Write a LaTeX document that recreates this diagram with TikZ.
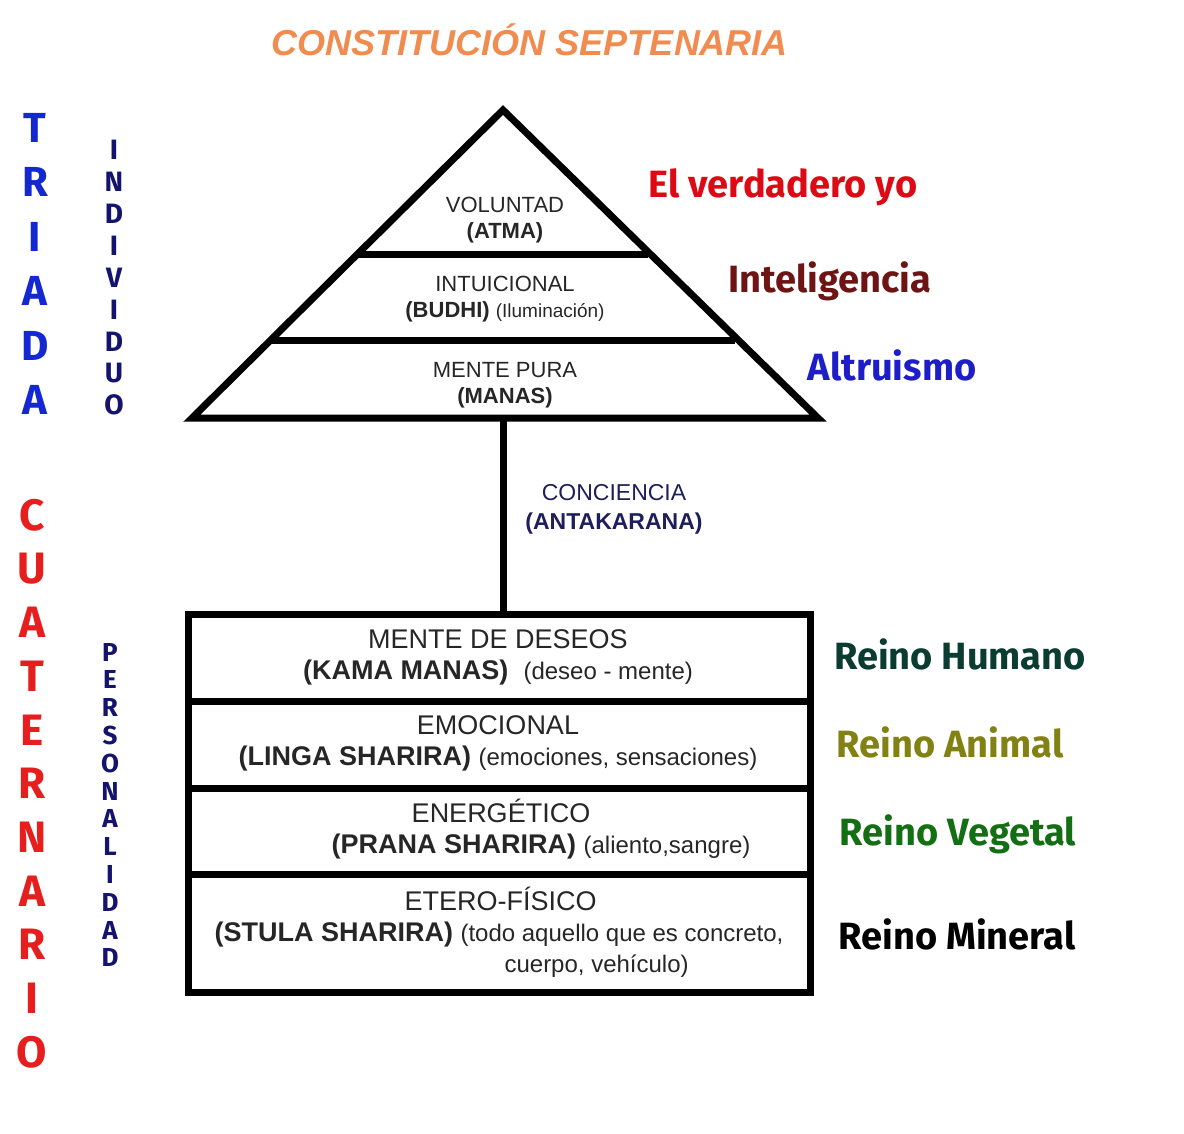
\documentclass[tikz,border=0pt]{standalone}
\usepackage{fontspec}
\setmainfont{Liberation Sans}
\newfontfamily\comic{Fira Sans}
\begin{document}
\begin{tikzpicture}[x=1pt,y=-1pt,
  thick8/.style={line width=7pt},
  inner/.style={font=\fontsize{27}{31}\selectfont, align=center, text=black!85},
  innersm/.style={font=\fontsize{22}{26}\selectfont, align=center, text=black!85},
  side/.style={font=\comic\bfseries\fontsize{38}{40}\selectfont},
  vl/.style={font=\comic\bfseries\fontsize{#1}{#1}\selectfont, inner sep=0pt}]
\useasboundingbox (0,0) rectangle (1184,1134);
\node[font=\itshape\bfseries\fontsize{36}{40}\selectfont, text={rgb,255:red,240;green,140;blue,80}] (title) at (530,40) {CONSTITUCIÓN SEPTENARIA};
% pyramid
\coordinate (apex) at (503,110);
\coordinate (bl) at (192,418);
\coordinate (br) at (818,418);
\draw[thick8, line join=miter] (apex) -- (br) -- (bl) -- cycle;
\draw[thick8] (358,255) -- (648,255);
\draw[thick8] (270,340) -- (735,340);
\node[innersm] (atma) at (505,220) {VOLUNTAD\\\textbf{(ATMA)}};
\node[innersm] (budhi) at (505,299) {INTUICIONAL\\\textbf{(BUDHI)} {\fontsize{19}{22}\selectfont(Iluminación)}};
\node[innersm] (manas) at (505,385) {MENTE PURA\\\textbf{(MANAS)}};
% stem
\coordinate (stemtop) at (503,418);
\coordinate (stembot) at (503,614);
\draw[thick8] (stemtop) -- (stembot);
\node[font=\fontsize{23}{27}\selectfont, align=center, text={rgb,255:red,30;green,30;blue,90}] (conc) at (614,509) {CONCIENCIA\\[2pt]\textbf{(ANTAKARANA)}};
% boxes
\draw[thick8] (188,614) rectangle (810,992);
\draw[thick8] (188,701) -- (810,701);
\draw[thick8] (188,788) -- (810,788);
\draw[thick8] (188,874) -- (810,874);
\node[inner] (kama) at (498,657) {MENTE DE DESEOS\\\textbf{(KAMA MANAS)}\ \ {\fontsize{24}{28}\selectfont(deseo - mente)}};
\node[inner] (linga) at (498,743) {EMOCIONAL\\\textbf{(LINGA SHARIRA)} {\fontsize{24}{28}\selectfont(emociones, sensaciones)}};
\node[inner] (prana) at (541,829) {\hspace*{-80pt}ENERGÉTICO\\\textbf{(PRANA SHARIRA)} {\fontsize{24}{28}\selectfont(aliento,sangre)}};
\node[inner, align=left] (stula) at (499,932) {\hspace*{190pt}ETERO-FÍSICO\\\textbf{(STULA SHARIRA)} {\fontsize{24}{28}\selectfont(todo aquello que es concreto,}\\\hspace*{290pt}{\fontsize{24}{28}\selectfont cuerpo, vehículo)}};
% right labels
\node[side, text={rgb,255:red,220;green,10;blue,20}] (l1) at (783,187) {El verdadero yo};
\node[side, text={rgb,255:red,110;green,20;blue,20}] (l2) at (830,281) {Inteligencia};
\node[side, text={rgb,255:red,30;green,30;blue,200}] (l3) at (892,365) {Altruismo};
\node[side, text={rgb,255:red,10;green,60;blue,50}] (l4) at (960,654) {Reino Humano};
\node[side, text={rgb,255:red,130;green,130;blue,20}] (l5) at (950,742) {Reino Animal};
\node[side, text={rgb,255:red,20;green,110;blue,20}] (l6) at (958,834) {Reino Vegetal};
\node[side, text=black] (l7) at (957,934) {Reino Mineral};
% vertical words
\foreach \c [count=\i from 0] in {T,R,I,A,D,A}
  \node[vl=42, text={rgb,255:red,20;green,40;blue,210}] (tr\i) at (35,128+54.4*\i) {\c};
\foreach \c [count=\i from 0] in {C,U,A,T,E,R,N,A,R,I,O}
  \node[vl=44, text={rgb,255:red,230;green,30;blue,30}] (cu\i) at (32,515+53.7*\i) {\c};
\foreach \c [count=\i from 0] in {I,N,D,I,V,I,D,U,O}
  \node[vl=28, text={rgb,255:red,20;green,20;blue,110}] (in\i) at (114,150+31.9*\i) {\c};
\foreach \c [count=\i from 0] in {P,E,R,S,O,N,A,L,I,D,A,D}
  \node[vl=26, text={rgb,255:red,20;green,20;blue,110}] (pe\i) at (110,652+27.8*\i) {\c};
\end{tikzpicture}
\end{document}
